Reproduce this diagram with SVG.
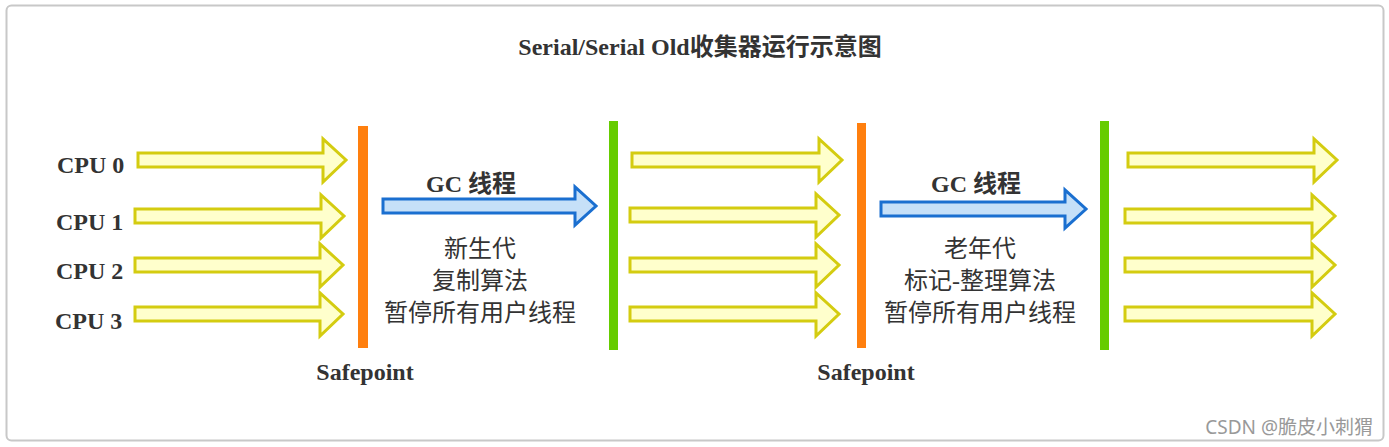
<svg xmlns="http://www.w3.org/2000/svg" width="1389" height="447" viewBox="0 0 1389 447">
<defs><style>
.y{fill:#ffffcc;stroke:#d4cc10;stroke-width:3;stroke-linejoin:miter}
.b{fill:#c6e0f8;stroke:#1a6fd0;stroke-width:3}
.t{font-family:"Liberation Serif","Noto Sans CJK SC",serif;font-weight:bold;fill:#333;font-size:24px}
.c{font-family:"Liberation Serif","Noto Sans CJK SC",serif;fill:#333;font-size:24px;text-anchor:middle}
</style></defs>
<rect x="0" y="0" width="1389" height="447" fill="#fff"/>
<rect x="6.5" y="5.5" width="1377" height="435" rx="5" fill="#fff" stroke="#c8c8c8" stroke-width="2"/>
<text class="t" x="700" y="55" text-anchor="middle">Serial/Serial Old收集器运行示意图</text>
<g id="labels">
<text class="t" x="57" y="173" font-size="25">CPU 0</text>
<text class="t" x="56" y="230" font-size="25">CPU 1</text>
<text class="t" x="56" y="279" font-size="25">CPU 2</text>
<text class="t" x="55" y="329" font-size="25">CPU 3</text>
<text class="t" x="365" y="380" text-anchor="middle" font-size="25">Safepoint</text>
<text class="t" x="866" y="380" text-anchor="middle" font-size="25">Safepoint</text>
</g>
<g id="bars">
<rect x="358" y="126" width="10" height="222" fill="#ff7f0e"/>
<rect x="609" y="121" width="9" height="229" fill="#66cc00"/>
<rect x="857" y="123" width="9" height="225" fill="#ff7f0e"/>
<rect x="1100" y="121" width="9" height="229" fill="#66cc00"/>
</g>
<g id="connectors">
<polygon class="y" points="138,153 323,153 323,139 346,160 323,182 323,167 138,167"/>
<polygon class="y" points="135,209 321,209 321,195 344,216 321,238 321,223 135,223"/>
<polygon class="y" points="135,258 320,258 320,244 343,265 320,287 320,272 135,272"/>
<polygon class="y" points="135,307 320,307 320,293 343,314 320,336 320,321 135,321"/>
<polygon class="y" points="632,153 819,153 819,139 842,160 819,182 819,167 632,167"/>
<polygon class="y" points="630,208 816,208 816,194 839,215 816,237 816,222 630,222"/>
<polygon class="y" points="630,258 816,258 816,244 839,265 816,287 816,272 630,272"/>
<polygon class="y" points="630,307 816,307 816,293 839,314 816,336 816,321 630,321"/>
<polygon class="y" points="1128,153 1314,153 1314,139 1337,160 1314,182 1314,167 1128,167"/>
<polygon class="y" points="1125,209 1312,209 1312,195 1335,216 1312,238 1312,223 1125,223"/>
<polygon class="y" points="1125,258 1312,258 1312,244 1335,265 1312,287 1312,272 1125,272"/>
<polygon class="y" points="1125,307 1312,307 1312,293 1335,314 1312,336 1312,321 1125,321"/>
<polygon class="b" points="383,199 575,199 575,187 596,206 575,225 575,213 383,213"/>
<polygon class="b" points="881,202 1065,202 1065,190 1086,209 1065,228 1065,216 881,216"/>
</g>
<g id="gc1">
<text class="c" x="471" y="192" font-weight="bold">GC 线程</text>
<text class="c" x="480" y="257">新生代</text>
<text class="c" x="480" y="289">复制算法</text>
<text class="c" x="480" y="321">暂停所有用户线程</text>
</g>
<g id="gc2">
<text class="c" x="976" y="192" font-weight="bold">GC 线程</text>
<text class="c" x="980" y="257">老年代</text>
<text class="c" x="980" y="289">标记-整理算法</text>
<text class="c" x="980" y="321">暂停所有用户线程</text>
</g>
<text x="1373" y="434" text-anchor="end" font-family="'Noto Sans','Noto Sans CJK SC',sans-serif" font-size="19" fill="#999">CSDN @脆皮小刺猬</text>
</svg>
